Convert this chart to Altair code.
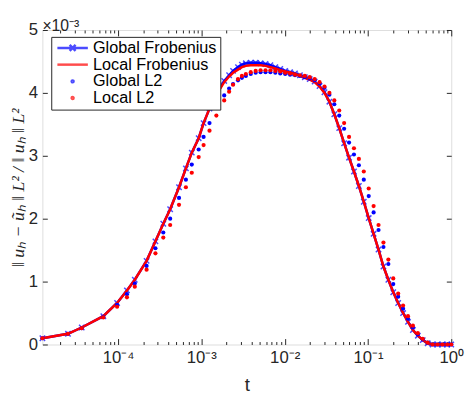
import altair as alt
import pandas as pd

# time samples
t = [1.234e-5, 2.502e-5, 3.659e-5, 6.65e-5, 9.73e-5, 1.277e-4, 1.587e-4, 2.199e-4, 2.808e-4, 3.489e-4,
     4.22e-4, 5.389e-4, 6.52e-4, 7.67e-4, 9.28e-4, 1.063e-3, 1.252e-3, 1.513e-3, 1.88e-3, 2.154e-3,
     2.401e-3, 2.751e-3, 3.066e-3, 3.419e-3, 3.916e-3, 4.486e-3, 5.139e-3, 5.887e-3, 6.744e-3, 7.725e-3,
     8.85e-3, 1.014e-2, 1.161e-2, 1.33e-2, 1.524e-2, 1.746e-2, 2.0e-2, 2.291e-2, 2.624e-2, 3.006e-2,
     3.443e-2, 3.944e-2, 4.518e-2, 5.175e-2, 5.928e-2, 6.79e-2, 7.778e-2, 8.91e-2, 0.1021, 0.1169,
     0.1339, 0.1534, 0.1757, 0.2012, 0.2305, 0.2641, 0.3025, 0.3465, 0.3969, 0.4547,
     0.5208, 0.5966, 0.6834, 0.7829, 0.8969, 1.0]

global_frob = [0.10, 0.17, 0.27, 0.45, 0.66, 0.86, 1.03, 1.33, 1.64, 1.92,
               2.15, 2.50, 2.80, 3.05, 3.28, 3.52, 3.75, 3.98, 4.19, 4.28,
               4.35, 4.41, 4.45, 4.47, 4.48, 4.48, 4.47, 4.46, 4.44, 4.41,
               4.38, 4.35, 4.33, 4.31, 4.28, 4.25, 4.22, 4.18, 4.11, 4.01,
               3.86, 3.66, 3.44, 3.20, 2.97, 2.75, 2.52, 2.27, 2.01, 1.76,
               1.51, 1.24, 1.03, 0.83, 0.66, 0.50, 0.36, 0.23, 0.14, 0.07,
               0.02, 0.0, 0.0, 0.0, 0.0, 0.0]

local_frob = [0.10, 0.17, 0.27, 0.45, 0.66, 0.86, 1.03, 1.33, 1.64, 1.92,
              2.15, 2.50, 2.80, 3.05, 3.28, 3.52, 3.75, 3.97, 4.17, 4.26,
              4.32, 4.37, 4.41, 4.43, 4.44, 4.44, 4.44, 4.43, 4.41, 4.39,
              4.36, 4.34, 4.32, 4.30, 4.27, 4.24, 4.21, 4.17, 4.10, 4.00,
              3.86, 3.66, 3.44, 3.20, 2.97, 2.75, 2.52, 2.27, 2.01, 1.76,
              1.51, 1.24, 1.03, 0.83, 0.66, 0.50, 0.36, 0.23, 0.14, 0.07,
              0.02, 0.0, 0.0, 0.0, 0.0, 0.0]

global_l2 = [0.10, 0.17, 0.26, 0.44, 0.63, 0.80, 0.97, 1.25, 1.53, 1.78,
             2.00, 2.33, 2.62, 2.86, 3.10, 3.30, 3.52, 3.76, 3.96, 4.07,
             4.14, 4.20, 4.24, 4.27, 4.30, 4.32, 4.33, 4.33, 4.33, 4.32,
             4.31, 4.30, 4.29, 4.28, 4.27, 4.25, 4.23, 4.20, 4.15, 4.08,
             3.97, 3.82, 3.64, 3.43, 3.21, 3.02, 2.85, 2.62, 2.36, 2.10,
             1.82, 1.55, 1.28, 0.96, 0.76, 0.57, 0.41, 0.27, 0.16, 0.08,
             0.03, 0.0, 0.0, 0.0, 0.0, 0.0]

local_l2 = [0.10, 0.17, 0.26, 0.43, 0.60, 0.75, 0.92, 1.19, 1.45, 1.70,
            1.90, 2.22, 2.50, 2.73, 2.98, 3.17, 3.40, 3.64, 3.88, 4.02,
            4.13, 4.22, 4.27, 4.30, 4.33, 4.35, 4.36, 4.36, 4.36, 4.35,
            4.34, 4.32, 4.31, 4.29, 4.28, 4.27, 4.25, 4.22, 4.17, 4.10,
            4.00, 3.88, 3.72, 3.52, 3.30, 3.12, 2.95, 2.75, 2.48, 2.20,
            1.90, 1.62, 1.35, 1.05, 0.81, 0.62, 0.45, 0.30, 0.18, 0.09,
            0.03, 0.0, 0.0, 0.0, 0.0, 0.0]

series_names = ["Global Frobenius", "Local Frobenius", "Global L2", "Local L2"]
series_colors = ["#0000ff", "#ff0000", "#0000ff", "#ff0000"]

x_major = [1e-4, 1e-3, 1e-2, 1e-1, 1.0]
x_minor = [k * 10.0 ** e for e in range(-5, 0) for k in range(2, 10) if k * 10.0 ** e >= 1.234e-5]
y_ticks = [0, 1, 2, 3, 4, 5]

rows = []
for name, vals in zip(series_names, [global_frob, local_frob, global_l2, local_l2]):
    for tv, v in zip(t, vals):
        rows.append({"t": tv, "e": v, "series": name})
df = pd.DataFrame(rows)

FONT = "Liberation Sans"
AX = "#262626"
W, H = 416, 320

xs = alt.Scale(type="log", domain=[1.234e-5, 1.0], nice=False)
ys = alt.Scale(domain=[0, 5], nice=False, zero=False)

label_expr = ("datum.value < 0.0005 ? '10⁻⁴' : datum.value < 0.005 ? '10⁻³' : "
              "datum.value < 0.05 ? '10⁻²' : datum.value < 0.5 ? '10⁻¹' : '10⁰'")

x_lab = alt.Axis(values=x_major, labelExpr=label_expr, orient="bottom", offset=-6, tickSize=6,
                 domain=False, grid=False, labelPadding=5, labelFontSize=17, labelFont=FONT,
                 labelColor=AX, tickColor=AX, title="t", titleFontSize=19, titleFont=FONT,
                 titleFontWeight="normal", titleColor=AX, titlePadding=11, labelFlush=False)
x_bmin = alt.Axis(values=x_minor, orient="bottom", offset=-3, tickSize=3, domain=False,
                  grid=False, labels=False, title=None, tickColor=AX)
x_tmaj = alt.Axis(values=x_major, orient="top", offset=-6, tickSize=6, domain=False,
                  grid=False, labels=False, title=None, tickColor=AX)
x_tmin = alt.Axis(values=x_minor, orient="top", offset=-3, tickSize=3, domain=False,
                  grid=False, labels=False, title=None, tickColor=AX)

y_lab = alt.Axis(values=y_ticks, orient="left", offset=-5, tickSize=5, domain=False, grid=False,
                 labelPadding=5, labelFontSize=17, labelFont=FONT, labelColor=AX, tickColor=AX,
                 title="‖ uₕ − ũₕ ‖ L² / ‖ uₕ ‖ L²", titleFont="Liberation Serif", titleFontStyle="italic",
                 titleFontSize=18, titleFontWeight="normal", titleColor=AX, titlePadding=1)
y_right = alt.Axis(values=y_ticks, orient="right", offset=-5, tickSize=5, domain=False, grid=False,
                   labels=False, title=None, tickColor=AX)

base = alt.Chart(df)

g_line = base.transform_filter(alt.datum.series == "Global Frobenius").mark_line(
    color="#0000ff", strokeWidth=2.5).encode(
    x=alt.X("t:Q", scale=xs, axis=x_lab), y=alt.Y("e:Q", scale=ys, axis=y_lab))

g_mark = base.transform_filter(alt.datum.series == "Global Frobenius").mark_point(
    shape="M-1,-1L1,1M-1,1L1,-1", filled=False, color="#0000ff", strokeWidth=1.5, size=30).encode(
    x=alt.X("t:Q", scale=xs, axis=x_bmin), y=alt.Y("e:Q", scale=ys, axis=y_right))

l_line = base.transform_filter(alt.datum.series == "Local Frobenius").mark_line(
    color="#ff0000", strokeWidth=2.5).encode(
    x=alt.X("t:Q", scale=xs, axis=x_tmaj), y=alt.Y("e:Q", scale=ys, axis=None))

g_dots = base.transform_filter(alt.datum.series == "Global L2").mark_circle(
    color="#0000ff", size=18, opacity=1).encode(
    x=alt.X("t:Q", scale=xs, axis=x_tmin), y=alt.Y("e:Q", scale=ys, axis=None))

l_dots = base.transform_filter(alt.datum.series == "Local L2").mark_circle(
    color="#ff0000", size=18, opacity=1).encode(
    x=alt.X("t:Q", scale=xs, axis=None), y=alt.Y("e:Q", scale=ys, axis=None))

shapes = [
    "M-1,0L5.2,0M1.5,-0.6L2.7,0.6M1.5,0.6L2.7,-0.6",
    "M-1,0L5.2,0",
    "M1.9,0A0.2,0.2 0 1,0 2.3,0A0.2,0.2 0 1,0 1.9,0",
    "M1.9,0A0.2,0.2 0 1,0 2.3,0A0.2,0.2 0 1,0 1.9,0",
]

legend = alt.Legend(title=None, orient="none", legendX=9, legendY=7, direction="vertical",
                    strokeColor="#262626", fillColor="white", padding=3, labelFontSize=16.5,
                    labelFont=FONT, labelColor="black", symbolSize=100, symbolStrokeWidth=2.5,
                    labelOffset=23, rowPadding=0, labelLimit=300)

leg = base.transform_filter(alt.datum.series == "none").mark_point(filled=False, strokeWidth=2.5).encode(
    x=alt.X("t:Q", scale=xs, axis=None), y=alt.Y("e:Q", scale=ys, axis=None),
    color=alt.Color("series:N", scale=alt.Scale(domain=series_names, range=series_colors), legend=legend),
    shape=alt.Shape("series:N", scale=alt.Scale(domain=series_names, range=shapes), legend=legend),
)

chart = alt.layer(g_line, g_mark, l_line, g_dots, l_dots, leg).resolve_axis(
    x="independent", y="independent"
).properties(
    width=W, height=H,
    title=alt.TitleParams(text="×10⁻³", anchor="start", frame="group", fontSize=16,
                          fontWeight="normal", font=FONT, color=AX, offset=0, dy=13),
    autosize=alt.AutoSizeParams(type="none"),
    padding={"left": 35, "top": 19, "right": 15, "bottom": 48},
).configure_view(stroke=AX, strokeWidth=1).configure(background="white")

chart.save("out.html", embed_options={"renderer": "svg", "actions": False})
